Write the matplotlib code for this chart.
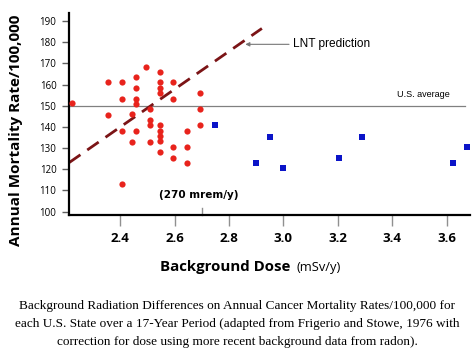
import numpy as np
import matplotlib.pyplot as plt

#   states below / around the U.S. average dose (red circles)
red_dose = [2.222, 2.357, 2.357, 2.408, 2.408, 2.408, 2.408, 2.443, 2.443,
            2.459, 2.459, 2.459, 2.459, 2.459, 2.495, 2.51, 2.51, 2.51, 2.51,
            2.545, 2.545, 2.545, 2.545, 2.545, 2.545, 2.545, 2.545, 2.545,
            2.594, 2.594, 2.594, 2.594, 2.645, 2.645, 2.645, 2.694, 2.694, 2.694]
red_rate = [151.1, 161.0, 145.6, 161.0, 153.3, 138.0, 112.8, 145.9, 133.0,
            163.7, 158.5, 153.4, 151.0, 138.0, 168.5, 148.3, 143.2, 140.8, 133.0,
            166.0, 161.0, 158.5, 156.1, 140.8, 138.2, 135.7, 133.3, 128.3,
            161.0, 153.3, 130.7, 125.5, 138.0, 130.7, 122.8, 155.8, 148.3, 140.7]

#   high background states (blue squares)
blue_dose = [2.747, 2.9, 2.949, 2.998, 3.203, 3.289, 3.625, 3.675]
blue_rate = [140.7, 122.8, 135.4, 120.4, 125.5, 135.4, 122.8, 130.7]

x_ticks = [2.4, 2.6, 2.8, 3.0, 3.2, 3.4, 3.6]
y_ticks = [100, 110, 120, 130, 140, 150, 160, 170, 180, 190]
us_average = 150
lnt_dose = [2.212, 2.921]
lnt_rate = [123.1, 186.5]

caption = ("Background Radiation Differences on Annual Cancer Mortality Rates/100,000 for\n"
           "each U.S. State over a 17-Year Period (adapted from Frigerio and Stowe, 1976 with\n"
           "correction for dose using more recent background data from radon).")

fig = plt.figure(figsize=(4.74, 3.55), dpi=100)
ax = fig.add_axes([0.1456, 0.3944, 0.846, 0.5696])

#   U.S. average line + LNT prediction
ax.plot([2.212, 3.668], [us_average, us_average], color="#808080", lw=0.9, zorder=1)
ax.plot(lnt_dose, lnt_rate, color="#7b1416", lw=2.0, dashes=(5, 3), zorder=2)

ax.scatter(red_dose, red_rate, s=20, color="#e8231c", marker="o", zorder=3, linewidths=0)
ax.scatter(blue_dose, blue_rate, s=18, color="#0b14c8", marker="s", zorder=3, linewidths=0)

ax.set_xlim(2.212, 3.686)
ax.set_ylim(98.4, 193.9)

for s in ["top", "right"]:
    ax.spines[s].set_visible(False)
ax.spines["left"].set_linewidth(1.6)
ax.spines["bottom"].set_linewidth(1.6)

ax.set_xticks(x_ticks)
ax.set_xticklabels([f"{v:.1f}" for v in x_ticks], fontsize=9.5, fontweight="bold", family="Open Sans")
ax.set_yticks(y_ticks)
ax.set_yticklabels([str(v) for v in y_ticks], fontsize=7, family="Open Sans")
ax.tick_params(axis="x", length=8, width=1.0, color="#909090", pad=4)
ax.tick_params(axis="y", length=5, width=1.0, color="#606060", pad=4)

#   270 mrem/y marker tick pointing inside
ax.plot([2.7, 2.7], [98.4, 101.8], color="#909090", lw=1.0, clip_on=False)
ax.text(2.69, 107.9, "(270 mrem/y)", fontsize=7.5, fontweight="bold",
        ha="center", va="center", family="DejaVu Sans")

ax.text(3.612, 155.5, "U.S. average", fontsize=6.5, ha="right", va="center",
        family="Liberation Sans")
ax.annotate("LNT prediction", xy=(2.86, 179.0), xytext=(3.036, 179.0),
            fontsize=8.6, va="center", ha="left", family="Liberation Sans",
            arrowprops=dict(arrowstyle="-|>", color="#777777", lw=0.8,
                            mutation_scale=6, shrinkA=1, shrinkB=0))

fig.text(0.034, 0.634, "Annual Mortality Rate/100,000", rotation=90, fontsize=11,
         fontweight="bold", ha="center", va="center", family="Open Sans")
fig.text(0.612, 0.248, "Background Dose", fontsize=10.8, fontweight="bold",
         ha="right", va="center", family="Open Sans")
fig.text(0.625, 0.246, "(mSv/y)", fontsize=9.3, ha="left", va="center", family="Open Sans")

fig.text(0.5, 0.088, caption, fontsize=9.5, ha="center", va="center",
         family="Liberation Serif", linespacing=1.68)

fig.savefig("out.png", dpi=100)
